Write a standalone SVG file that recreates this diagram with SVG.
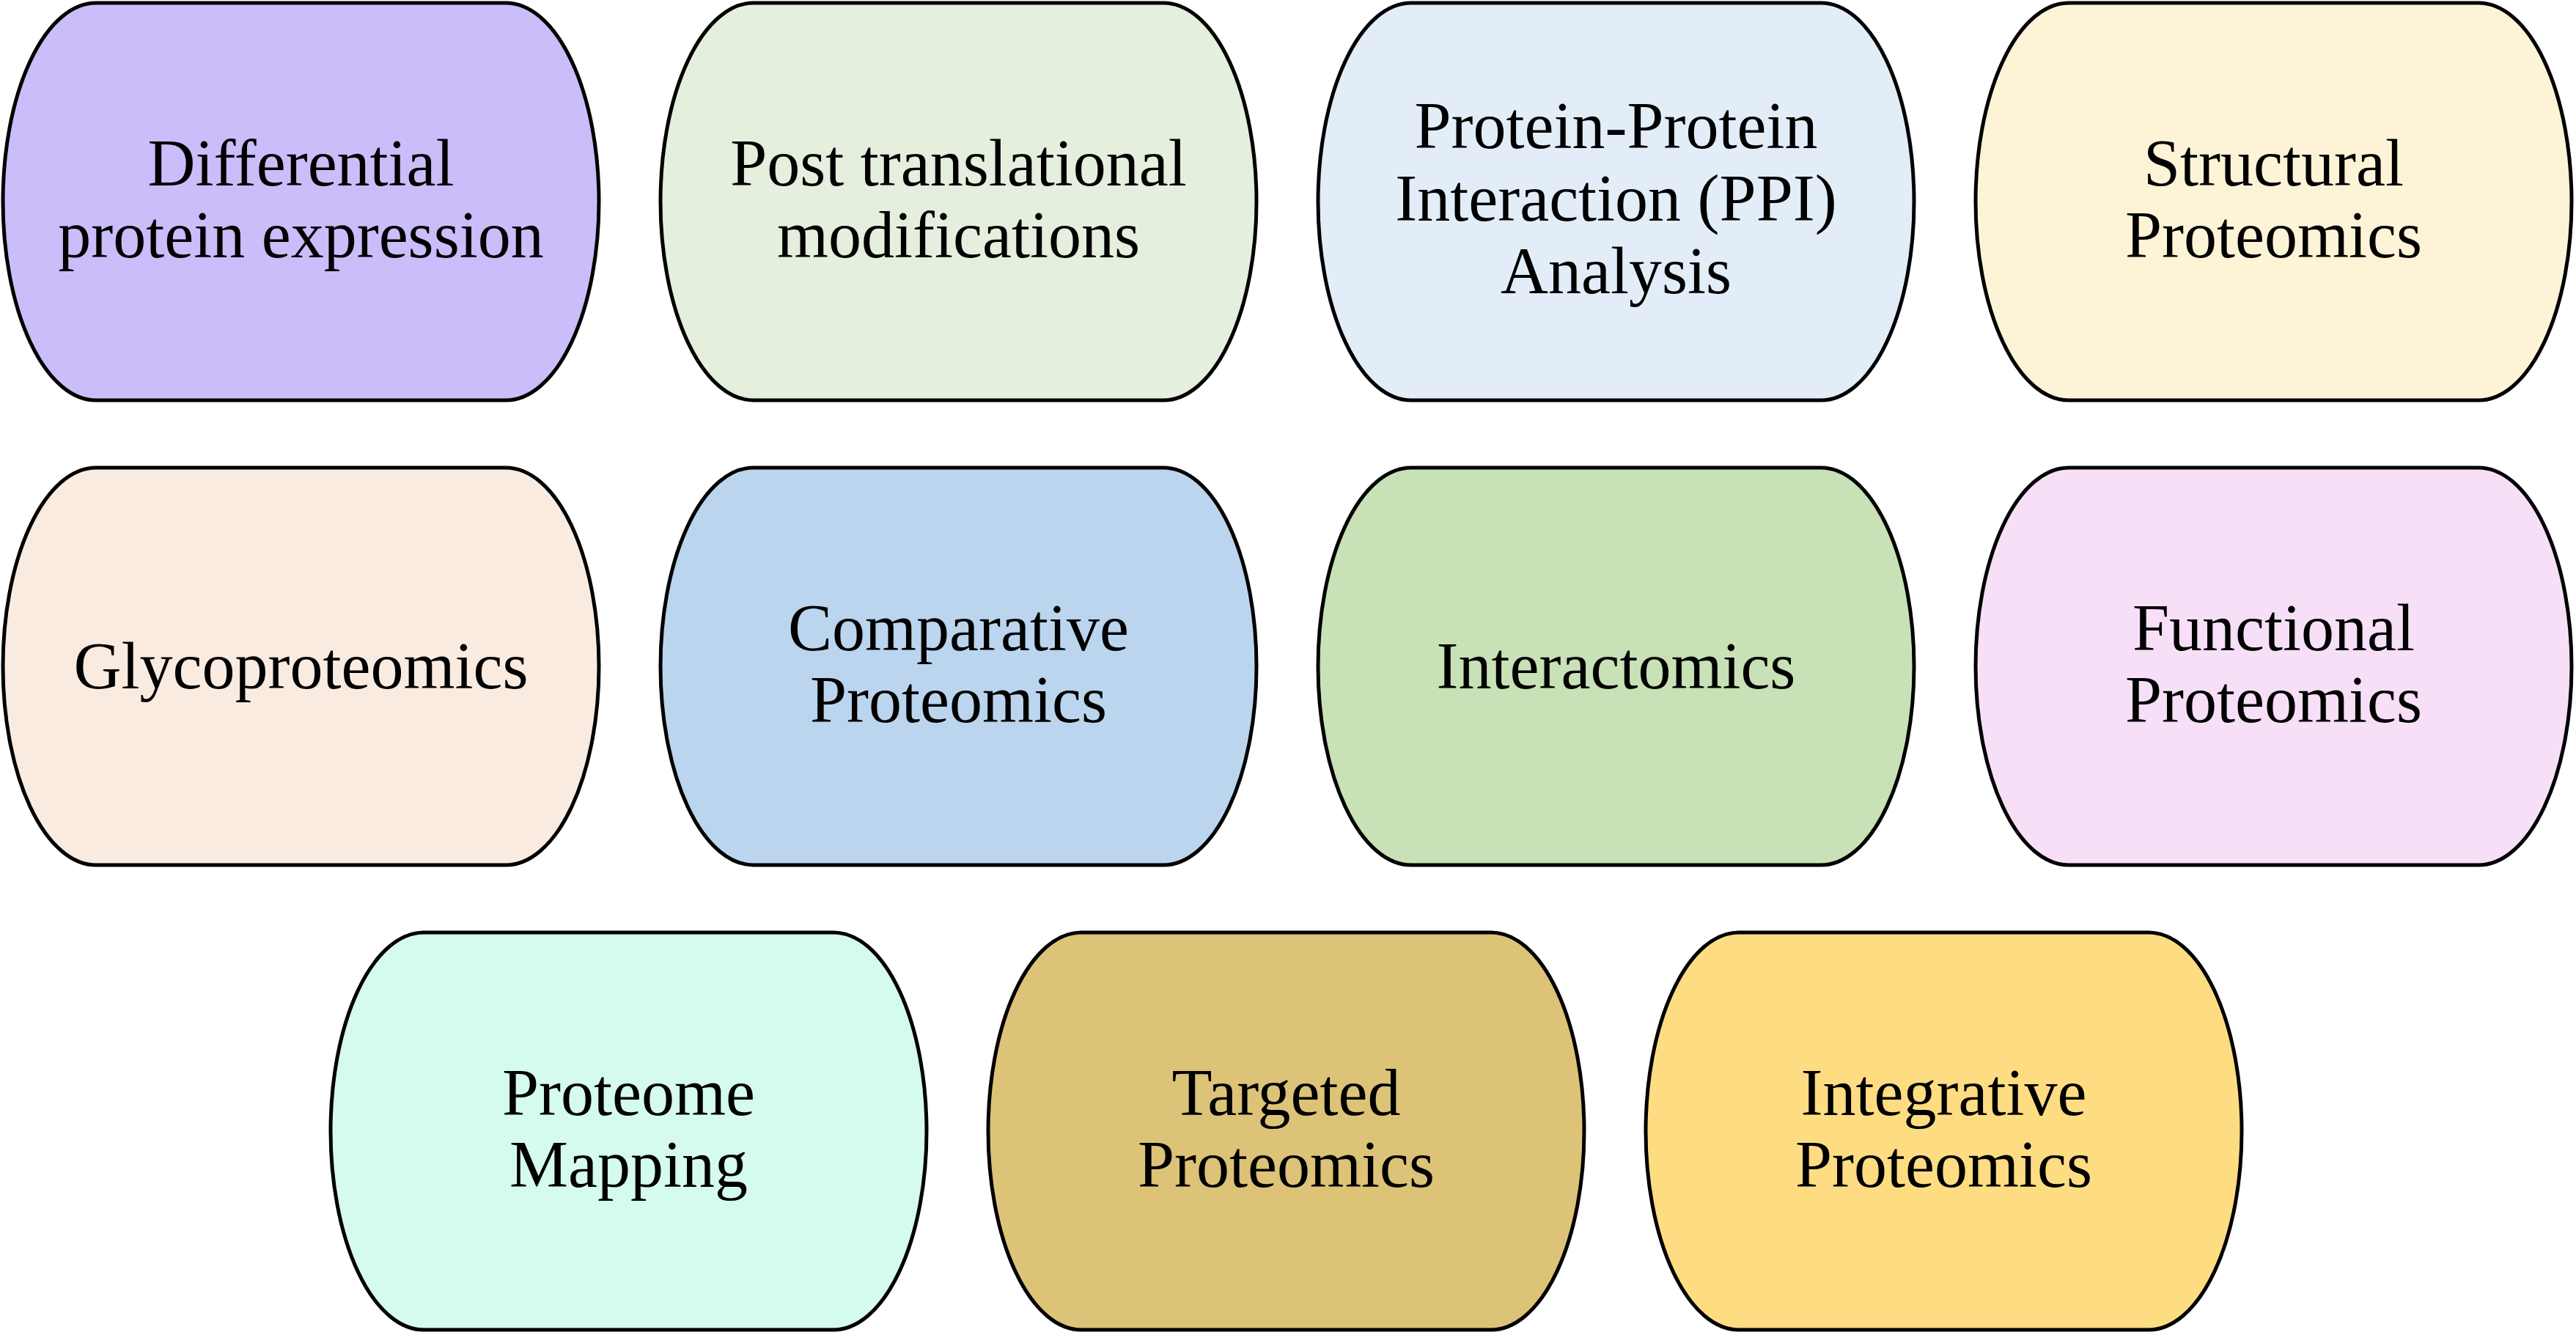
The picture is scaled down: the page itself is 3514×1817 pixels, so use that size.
<svg xmlns="http://www.w3.org/2000/svg" width="3514" height="1817" viewBox="0 0 3514 1817">
<style>
.n{stroke:#000;stroke-width:5;}
.t{font-family:"Liberation Serif","Times New Roman",serif;font-size:90px;fill:#000;text-anchor:middle;}
</style>
<rect width="3514" height="1817" fill="#fff"/>
<g id="node1"><path class="n" fill="#CABDF9" d="M131,4 H690 A127,271 0 0 1 690,546 H131 A127,271 0 0 1 131,4 Z"/><text class="t" x="410.5" y="253">Differential</text><text class="t" x="410.5" y="351">protein expression</text></g>
<g id="node2"><path class="n" fill="#E4EFDD" d="M1028,4 H1587 A127,271 0 0 1 1587,546 H1028 A127,271 0 0 1 1028,4 Z"/><text class="t" x="1307.5" y="253">Post translational</text><text class="t" x="1307.5" y="351">modifications</text></g>
<g id="node3"><path class="n" fill="#E2EDF8" d="M1925,4 H2484 A127,271 0 0 1 2484,546 H1925 A127,271 0 0 1 1925,4 Z"/><text class="t" x="2204.5" y="202">Protein-Protein</text><text class="t" x="2204.5" y="301">Interaction (PPI)</text><text class="t" x="2204.5" y="400">Analysis</text></g>
<g id="node4"><path class="n" fill="#FDF4D7" d="M2822,4 H3381 A127,271 0 0 1 3381,546 H2822 A127,271 0 0 1 2822,4 Z"/><text class="t" x="3101.5" y="253">Structural</text><text class="t" x="3101.5" y="351">Proteomics</text></g>
<g id="node5"><path class="n" fill="#FAEBE1" d="M131,638 H690 A127,271 0 0 1 690,1180 H131 A127,271 0 0 1 131,638 Z"/><text class="t" x="410.5" y="939">Glycoproteomics</text></g>
<g id="node6"><path class="n" fill="#BBD5EE" d="M1028,638 H1587 A127,271 0 0 1 1587,1180 H1028 A127,271 0 0 1 1028,638 Z"/><text class="t" x="1307.5" y="887">Comparative</text><text class="t" x="1307.5" y="985">Proteomics</text></g>
<g id="node7"><path class="n" fill="#C8E1B6" d="M1925,638 H2484 A127,271 0 0 1 2484,1180 H1925 A127,271 0 0 1 1925,638 Z"/><text class="t" x="2204.5" y="939">Interactomics</text></g>
<g id="node8"><path class="n" fill="#F6DFF7" d="M2822,638 H3381 A127,271 0 0 1 3381,1180 H2822 A127,271 0 0 1 2822,638 Z"/><text class="t" x="3101.5" y="887">Functional</text><text class="t" x="3101.5" y="985">Proteomics</text></g>
<g id="node9"><path class="n" fill="#D5FBEC" d="M578,1272 H1137 A127,271 0 0 1 1137,1814 H578 A127,271 0 0 1 578,1272 Z"/><text class="t" x="857.5" y="1521">Proteome</text><text class="t" x="857.5" y="1619">Mapping</text></g>
<g id="node10"><path class="n" fill="#DCC377" d="M1475,1272 H2034 A127,271 0 0 1 2034,1814 H1475 A127,271 0 0 1 1475,1272 Z"/><text class="t" x="1754.5" y="1521">Targeted</text><text class="t" x="1754.5" y="1619">Proteomics</text></g>
<g id="node11"><path class="n" fill="#FEDD82" d="M2372,1272 H2931 A127,271 0 0 1 2931,1814 H2372 A127,271 0 0 1 2372,1272 Z"/><text class="t" x="2651.5" y="1521">Integrative</text><text class="t" x="2651.5" y="1619">Proteomics</text></g>
<g id="connectors"></g>
</svg>
